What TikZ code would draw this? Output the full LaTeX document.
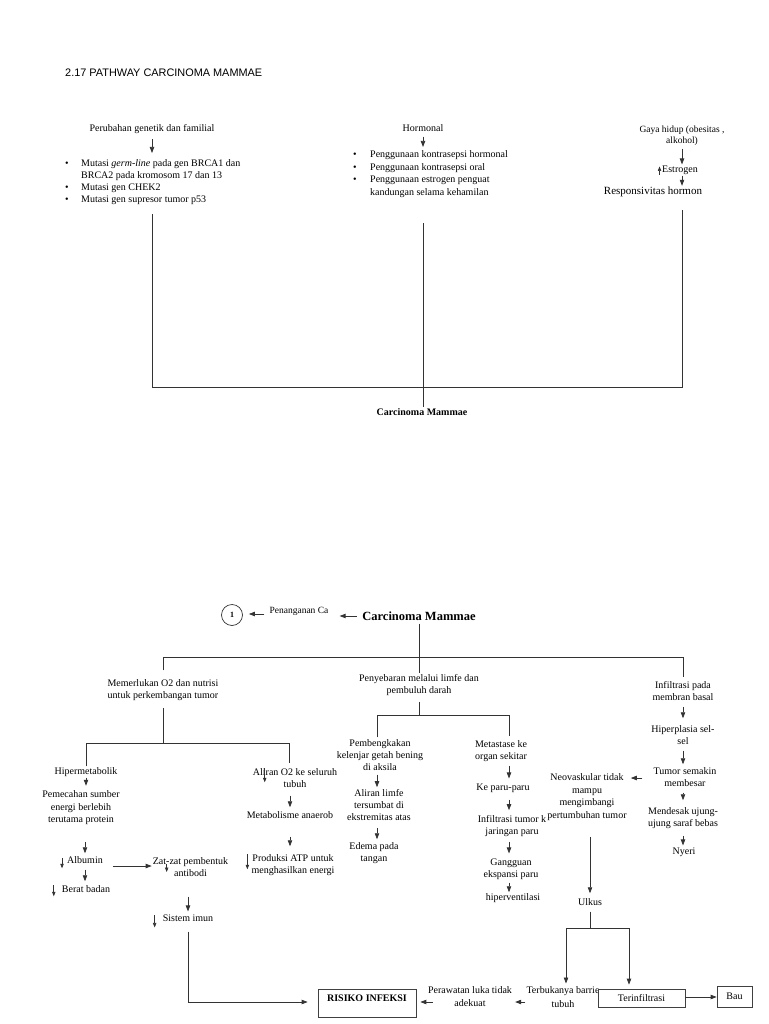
\documentclass[tikz,border=0pt]{standalone}
\usepackage{fontspec}
\setmainfont{Liberation Serif}
\newfontfamily\titlefont{Liberation Sans}
\usetikzlibrary{arrows.meta}
\begin{document}
\begin{tikzpicture}[x=1pt,y=-1pt]
\tikzset{
 txt/.style={font=\fontsize{10}{12}\selectfont, align=center, inner sep=1pt},
 ln/.style={draw=black!80, line width=0.7pt},
 ar/.style={ln, line width=0.75pt, -{Triangle[length=6pt,width=4.4pt]}},
 mini/.style={ln, line width=0.6pt, -{Triangle[length=4.5pt,width=3.4pt]}},
 boxnode/.style={draw=black!75, line width=0.7pt, fill=white, inner sep=0pt, font=\fontsize{10}{12}\selectfont}
}
\fill[white] (0,0) rectangle (768,1024);
\useasboundingbox (0,0) rectangle (768,1024);

% ---------- title ----------
\node[anchor=west, inner sep=0pt, font=\titlefont\fontsize{10.9}{13}\selectfont] (title) at (65,73) {2.17 PATHWAY CARCINOMA MAMMAE};

% ---------- top part ----------
\node[txt] (gen) at (152,129) {Perubahan genetik dan familial};
\node[anchor=north west, inner sep=0pt, font=\fontsize{10}{12}\selectfont] (gl) at (65,158)
 {\begin{tabular}{@{}p{16pt}@{}l@{}}\textbullet & Mutasi \textit{germ-line} pada gen BRCA1 dan\\ & BRCA2 pada kromosom 17 dan 13\\ \textbullet & Mutasi gen CHEK2\\ \textbullet & Mutasi gen supresor tumor p53\end{tabular}};
\node[txt] (horm) at (423,128) {Hormonal};
\node[anchor=north west, inner sep=0pt, font=\fontsize{10}{12}\selectfont] (hl) at (353,149)
 {\renewcommand{\arraystretch}{1.04}\begin{tabular}{@{}p{17pt}@{}l@{}}\textbullet & Penggunaan kontrasepsi hormonal\\ \textbullet & Penggunaan kontrasepsi oral\\ \textbullet & Penggunaan estrogen penguat\\ & kandungan selama kehamilan\end{tabular}};
\node[txt, font=\fontsize{9.5}{11}\selectfont] (gaya) at (682,135.5) {Gaya hidup (obesitas ,\\alkohol)};
\node[txt] (est) at (680,170) {Estrogen};
\node[txt, font=\fontsize{11}{13}\selectfont] (resp) at (653,192) {Responsivitas hormon};
\node[txt, font=\fontsize{10}{12}\selectfont\bfseries] (cm1) at (422,412) {Carcinoma Mammae};

\draw[ar, shorten <=4.5pt, shorten >=5pt] (gen.south) -- (gen.south |- gl.north);
\draw[ar, shorten <=4pt, shorten >=2pt] (horm.south) -- (horm.south |- hl.north);
\draw[ar, shorten <=2pt] (gaya.south) -- (gaya.south |- est.north);
\draw[ar] (est.south -| gaya.south) -- (resp.north -| gaya.south);
\draw[mini] ([xshift=-1.5pt,yshift=1pt]est.south west) -- ([xshift=-1.5pt,yshift=-2pt]est.north west);

\coordinate (bl) at (152,387);
\coordinate (br) at (682,387);
\draw[ln] ([yshift=-8pt]gl.south -| gen.south) -- (bl) -- (br) -- ([yshift=-12pt]resp.south -| gaya.south);
\draw[ln] ([yshift=-24pt]hl.south -| horm.south) -- (cm1.north -| horm.south);

% ---------- bottom part ----------
\node[circle, draw=black!80, line width=0.7pt, minimum size=21pt, inner sep=0pt, font=\fontsize{8}{9}\selectfont\bfseries] (c1) at (232,615) {1};
\node[txt, font=\fontsize{9.5}{11}\selectfont] (pen) at (299,611) {Penanganan Ca};
\node[txt, font=\fontsize{12.5}{15}\selectfont\bfseries] (cm2) at (419,616) {Carcinoma Mammae};
\draw[ar, shorten <=4pt, shorten >=10pt] (cm2.west) -- (cm2.west -| pen.east);
\draw[ar, shorten <=4pt, shorten >=6pt] ([yshift=-3pt]pen.west) -- ([yshift=-3pt]pen.west -| c1.east);

\node[txt] (mem) at (163,690) {Memerlukan O2 dan nutrisi\\untuk perkembangan tumor};
\node[txt] (peny) at (419,685) {Penyebaran melalui limfe dan\\pembuluh darah};
\node[txt] (infp) at (683,691) {Infiltrasi pada\\membran basal};
\coordinate (h1) at (419,657);
\draw[ln, shorten <=2pt] (cm2.south) -- (peny.north);
\draw[ln, shorten <=8pt, shorten >=3pt] (mem.north) -- (mem.north |- h1) -- (infp.north |- h1) -- (infp.north);

% left branch
\coordinate (h2) at (163,743);
\draw[ln, shorten <=6pt] (mem.south) -- (h2);
\node[txt] (hip) at (86,772) {Hipermetabolik};
\node[txt] (ali) at (295,778) {Aliran O2 ke seluruh\\tubuh};
\draw[ln, shorten >=4pt] (hip.north) -- (hip.north |- h2) -- ([xshift=-6pt]ali.north |- h2) -- ([xshift=-6pt]ali.north);
\draw[mini] ([xshift=13pt,yshift=-1pt]ali.north west) -- ++(0,14);

\node[txt, font=\fontsize{10}{12.5}\selectfont] (pem) at (81,808) {Pemecahan sumber\\energi berlebih\\terutama protein};
\draw[ar, shorten >=4pt] (hip.south) -- (hip.south |- pem.north);
\node[txt] (alb) at (85,860) {Albumin};
\draw[ar, shorten <=16pt, shorten >=2pt] (alb |- pem.south) -- (alb.north);
\draw[mini] ([xshift=-4pt,yshift=-3pt]alb.north west) -- ++(0,10);
\node[txt] (berat) at (86,889) {Berat badan};
\draw[ar, shorten <=5pt, shorten >=3pt] (alb.south) -- (alb.south |- berat.north);
\draw[mini] ([xshift=-7pt,yshift=-1pt]berat.north west) -- ++(0,11);
\node[txt] (zat) at (190.5,867) {Zat-zat pembentuk\\antibodi};
\draw[ar, shorten <=9pt] ([yshift=-6pt]alb.east) -- ([yshift=-6pt]alb.east -| zat.west);
\draw[mini] ([xshift=15pt,yshift=3pt]zat.west) -- ++(0,8);
\node[txt] (sis) at (188,918) {Sistem imun};
\draw[ar, shorten <=19pt, shorten >=2pt] (sis |- zat.south) -- (sis.north);
\draw[mini] ([xshift=-7pt,yshift=-2pt]sis.north west) -- ++(0,12);

\node[txt] (met) at (290,815) {Metabolisme anaerob};
\draw[ar, shorten <=7pt, shorten >=3pt] (met |- ali.south) -- (met.north);
\node[txt] (atp) at (293,865) {Produksi ATP untuk\\menghasilkan energi};
\draw[ar, shorten <=17pt, shorten >=7pt] (met.south) -- (met.south |- atp.north);
\draw[mini] ([xshift=-3pt,yshift=-1pt]atp.north west) -- ++(0,15);

% middle branch
\coordinate (h3) at (419,715);
\coordinate (cl) at (377,715);
\coordinate (cr) at (509,715);
\draw[ln, shorten <=5pt] (peny.south) -- (h3);
\node[txt] (pemb) at (380,755) {Pembengkakan\\kelenjar getah bening\\di aksila};
\node[txt] (meta) at (501,751) {Metastase ke\\organ sekitar};
\draw[ln, shorten <=1pt, shorten >=3pt] (cl |- pemb.north) -- (cl) -- (cr) -- (cr |- meta.north);
\node[txt] (alir) at (379,805) {Aliran limfe\\tersumbat di\\ekstremitas atas};
\draw[ar, shorten <=3pt, shorten >=1pt] (cl |- pemb.south) -- (cl |- alir.north);
\node[txt] (edema) at (374,853) {Edema pada\\tangan};
\draw[ar, shorten <=6pt, shorten >=2pt] (cl |- alir.south) -- (cl |- edema.north);

\node[txt] (kep) at (503,788) {Ke paru-paru};
\draw[ar, shorten <=3pt, shorten >=4pt] (cr |- meta.south) -- (cr |- kep.north);
\node[txt] (infl) at (512,826) {Infiltrasi tumor k\\jaringan paru};
\draw[ar, shorten <=6pt, shorten >=4pt] (cr |- kep.south) -- (cr |- infl.north);
\node[txt] (gang) at (511,869) {Gangguan\\ekspansi paru};
\draw[ar, shorten <=4pt, shorten >=4pt] (cr |- infl.south) -- (cr |- gang.north);
\node[txt] (hv) at (513,898) {hiperventilasi};
\draw[ar, shorten <=2pt] (cr |- gang.south) -- (cr |- hv.north);

% right branch
\node[txt] (hyp) at (683,735) {Hiperplasia sel-\\sel};
\draw[ar, shorten <=5pt, shorten >=6pt] (infp.south) -- (infp.south |- hyp.north);
\node[txt] (tum) at (685,777) {Tumor semakin\\membesar};
\draw[ar, shorten <=5pt, shorten >=2pt] (hyp.south) -- (hyp.south |- tum.north);
\node[txt, font=\fontsize{10}{12.7}\selectfont] (neo) at (587,797) {Neovaskular tidak\\mampu\\mengimbangi\\pertumbuhan tumor};
\draw[ar, shorten <=10pt, shorten >=3pt] ([yshift=-1pt]tum.west) -- ([yshift=-1pt]tum.west -| neo.east);
\node[txt] (mend) at (683,818) {Mendesak ujung-\\ujung saraf bebas};
\draw[ar, shorten <=5pt, shorten >=6pt] (mend |- tum.south) -- (mend.north);
\node[txt] (nyeri) at (684,852) {Nyeri};
\draw[ar, shorten <=6pt, shorten >=1pt] (mend.south) -- (mend.south |- nyeri.north);

\node[txt] (ulkus) at (590,902) {Ulkus};
\draw[ar, shorten <=15pt, shorten >=4pt] (ulkus |- neo.south) -- (ulkus.north);
\coordinate (h4) at (590,928);
\coordinate (h4l) at (566,928);
\coordinate (h4r) at (629,928);
\draw[ln, shorten <=5pt] (ulkus.south) -- (h4);
\draw[ln] (h4l) -- (h4r);
\node[txt, font=\fontsize{10}{13.5}\selectfont] (terb) at (563,997) {Terbukanya barrie\\tubuh};
\draw[ar, shorten >=2pt] (h4l) -- (h4l |- terb.north);
\node[boxnode, minimum width=87pt, minimum height=18pt] (terinf) at (641.5,998) {Terinfiltrasi};
\draw[ar, shorten >=4pt] (h4r) -- (h4r |- terinf.north);
\node[boxnode, minimum width=35pt, minimum height=21pt] (bau) at (734.5,996.5) {Bau};
\draw[ar] ([yshift=1pt]terinf.east) -- ([yshift=1pt]terinf.east -| bau.west);
\node[txt, font=\fontsize{10}{13}\selectfont] (pera) at (470,997) {Perawatan luka tidak\\adekuat};
\draw[ar, shorten >=2pt] ([yshift=-5pt]terb.west) -- ([yshift=-5pt]terb.west -| pera.east);
\node[boxnode, minimum width=98pt, minimum height=28pt, inner ysep=4pt, text height=8pt, text depth=12pt, font=\fontsize{10}{12}\selectfont\bfseries] (risk) at (367,1003) {RISIKO INFEKSI};
\draw[ar, shorten >=4pt] ([xshift=6pt,yshift=-5pt]pera.west) -- ([yshift=-5pt]pera.west -| risk.east);
\draw[ar, shorten <=9pt, shorten >=10pt] (sis.south) |- ([yshift=1pt]risk.west);
\end{tikzpicture}
\end{document}
